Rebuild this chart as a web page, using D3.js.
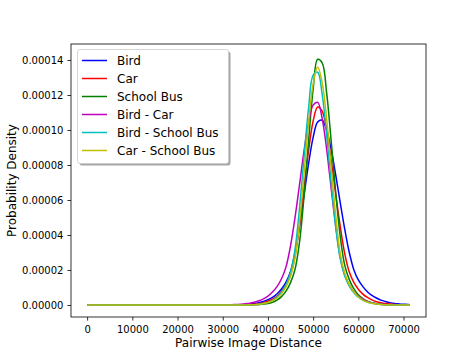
<!DOCTYPE html>
<html><head><meta charset="utf-8">
<script src="https://cdn.jsdelivr.net/npm/d3@7"></script>
<style>
body{margin:0;background:#fff}
svg{display:block}
text{font-family:"DejaVu Sans",sans-serif;fill:#000}
</style>
</head><body>
<svg id="chart" width="474" height="357"></svg>
<script>
// Sample points (pairwise image distance)
const distances = [0, 30000, 31000, 32000, 33000, 34000, 35000, 36000, 37000, 38000, 39000,
  40000, 41000, 42000, 43000, 44000, 45000, 46000, 47000, 48000, 49000,
  50000, 51000, 52000, 53000, 54000, 55000, 56000, 57000, 58000, 59000,
  60000, 61000, 62000, 63000, 64000, 65000, 66000, 67000, 68000, 69000,
  70000, 71000, 71400];

// Probability densities (units of 1e-5 written as e-5)
const bird = [0, 0, 0, 0, 0.01e-5, 0.018e-5, 0.031e-5, 0.052e-5, 0.083e-5, 0.13e-5, 0.20e-5,
  0.30e-5, 0.43e-5, 0.63e-5, 0.91e-5, 1.31e-5, 1.92e-5, 3.00e-5, 4.52e-5, 6.29e-5, 8.09e-5,
  9.58e-5, 10.46e-5, 10.56e-5, 9.97e-5, 8.87e-5, 7.42e-5, 5.84e-5, 4.32e-5, 3.00e-5, 2.02e-5,
  1.43e-5, 1.05e-5, 0.76e-5, 0.55e-5, 0.40e-5, 0.28e-5, 0.20e-5, 0.135e-5, 0.09e-5, 0.063e-5,
  0.042e-5, 0.025e-5, 0.02e-5];
const car = [0, 0, 0, 0, 0, 0.006e-5, 0.013e-5, 0.026e-5, 0.047e-5, 0.076e-5, 0.13e-5,
  0.21e-5, 0.33e-5, 0.50e-5, 0.77e-5, 1.15e-5, 1.71e-5, 2.82e-5, 4.58e-5, 6.70e-5, 8.84e-5,
  10.51e-5, 11.31e-5, 11.08e-5, 9.98e-5, 8.27e-5, 6.33e-5, 4.48e-5, 2.92e-5, 1.88e-5, 1.29e-5,
  0.90e-5, 0.62e-5, 0.43e-5, 0.29e-5, 0.19e-5, 0.125e-5, 0.08e-5, 0.05e-5, 0.03e-5, 0.017e-5,
  0.009e-5, 0.003e-5, 0];
const schoolBus = [0, 0, 0, 0, 0, 0, 0, 0, 0.01e-5, 0.02e-5, 0.05e-5,
  0.09e-5, 0.16e-5, 0.28e-5, 0.48e-5, 0.79e-5, 1.28e-5, 2.04e-5, 3.62e-5, 6.25e-5, 9.40e-5,
  12.33e-5, 14.04e-5, 13.83e-5, 12.09e-5, 9.35e-5, 6.40e-5, 3.91e-5, 2.26e-5, 1.45e-5, 0.93e-5,
  0.58e-5, 0.37e-5, 0.22e-5, 0.13e-5, 0.07e-5, 0.04e-5, 0.02e-5, 0.01e-5, 0, 0,
  0, 0, 0];
const birdCar = [0, 0, 0.007e-5, 0.015e-5, 0.03e-5, 0.04e-5, 0.07e-5, 0.10e-5, 0.16e-5, 0.24e-5, 0.35e-5,
  0.51e-5, 0.74e-5, 1.05e-5, 1.50e-5, 2.18e-5, 3.38e-5, 5.01e-5, 6.90e-5, 8.83e-5, 10.44e-5,
  11.42e-5, 11.58e-5, 10.65e-5, 8.88e-5, 6.64e-5, 4.50e-5, 2.73e-5, 1.70e-5, 1.14e-5, 0.75e-5,
  0.49e-5, 0.32e-5, 0.20e-5, 0.12e-5, 0.075e-5, 0.045e-5, 0.025e-5, 0.013e-5, 0.005e-5, 0,
  0, 0, 0];
const birdSchoolBus = [0, 0, 0, 0, 0, 0, 0, 0.01e-5, 0.02e-5, 0.05e-5, 0.09e-5,
  0.15e-5, 0.26e-5, 0.45e-5, 0.73e-5, 1.17e-5, 1.86e-5, 3.19e-5, 5.58e-5, 8.48e-5, 11.27e-5,
  13.14e-5, 13.30e-5, 12.03e-5, 9.68e-5, 6.96e-5, 4.44e-5, 2.63e-5, 1.66e-5, 1.08e-5, 0.70e-5,
  0.45e-5, 0.28e-5, 0.17e-5, 0.10e-5, 0.06e-5, 0.03e-5, 0.016e-5, 0.007e-5, 0, 0,
  0, 0, 0];
const carSchoolBus = [0, 0, 0, 0, 0, 0, 0, 0.01e-5, 0.02e-5, 0.04e-5, 0.08e-5,
  0.14e-5, 0.24e-5, 0.40e-5, 0.65e-5, 1.03e-5, 1.65e-5, 2.69e-5, 4.74e-5, 7.51e-5, 10.42e-5,
  12.64e-5, 13.60e-5, 12.70e-5, 10.60e-5, 7.82e-5, 5.11e-5, 2.92e-5, 1.81e-5, 1.16e-5, 0.74e-5,
  0.47e-5, 0.28e-5, 0.17e-5, 0.10e-5, 0.06e-5, 0.03e-5, 0.015e-5, 0.005e-5, 0, 0,
  0, 0, 0];

const seriesNames = ["Bird", "Car", "School Bus", "Bird - Car", "Bird - School Bus", "Car - School Bus"];
const seriesValues = [bird, car, schoolBus, birdCar, birdSchoolBus, carSchoolBus];
const seriesColors = ["#0000ff", "#ff0000", "#008000", "#bf00bf", "#00bfbf", "#bfbf00"];

const xTicks = [0, 10000, 20000, 30000, 40000, 50000, 60000, 70000];
const yTicks = [0, 0.00002, 0.00004, 0.00006, 0.00008, 0.00010, 0.00012, 0.00014];
const xLabel = "Pairwise Image Distance";
const yLabel = "Probability Density";

// Layout
const W = 474, H = 357;
const m = {left: 71, right: 48, top: 44, bottom: 40};
const svg = d3.select("#chart");

const xMin = d3.min(distances), xMax = d3.max(distances);
const xPad = (xMax - xMin) * 0.05;
const x = d3.scaleLinear().domain([xMin - xPad, xMax + xPad]).range([m.left, W - m.right]);
const yMaxTick = 0.00014, yTop = yMaxTick * 1.0653, yBot = -0.00000686;
const y = d3.scaleLinear().domain([yBot, yTop]).range([H - m.bottom, m.top]);

// Lines
const line = d3.line().x(d => x(d[0])).y(d => y(d[1])).curve(d3.curveCatmullRom.alpha(0.5));
seriesValues.forEach((vals, i) => {
  svg.append("path")
    .datum(distances.map((dv, j) => [dv, vals[j]]))
    .attr("fill", "none")
    .attr("stroke", seriesColors[i])
    .attr("stroke-width", 1.5)
    .attr("stroke-linejoin", "round")
    .attr("d", line);
});

// Axes
const tick = 3.6;
const xAxis = svg.append("g").attr("transform", `translate(0,${H - m.bottom})`)
  .call(d3.axisBottom(x).tickValues(xTicks).tickFormat(d3.format("d")).tickSize(tick).tickPadding(5));
const yAxis = svg.append("g").attr("transform", `translate(${m.left},0)`)
  .call(d3.axisLeft(y).tickValues(yTicks).tickFormat(d3.format(".5f")).tickSize(tick).tickPadding(4));
[xAxis, yAxis].forEach(g => {
  g.select(".domain").remove();
  g.selectAll(".tick line").attr("stroke", "#000").attr("stroke-width", 0.8);
  g.selectAll(".tick text").attr("font-size", 10).attr("font-family", "DejaVu Sans").attr("fill", "#000");
});

// Frame
svg.append("rect")
  .attr("x", m.left).attr("y", m.top)
  .attr("width", W - m.left - m.right).attr("height", H - m.top - m.bottom)
  .attr("fill", "none").attr("stroke", "#000").attr("stroke-width", 0.8);

// Axis labels
svg.append("text").attr("x", (m.left + W - m.right) / 2).attr("y", 347)
  .attr("text-anchor", "middle").attr("font-size", 12).text(xLabel);
svg.append("text").attr("transform", `translate(15.5,${(m.top + H - m.bottom) / 2}) rotate(-90)`)
  .attr("text-anchor", "middle").attr("font-size", 12).text(yLabel);

// Legend
const lg = svg.append("g");
const lx = 77.5, ly = 49.5, lw = 151, lh = 114;
lg.append("rect").attr("x", lx + 2).attr("y", ly + 2).attr("width", lw).attr("height", lh)
  .attr("rx", 2.5).attr("fill", "#4d4d4d").attr("fill-opacity", 0.5);
lg.append("rect").attr("x", lx).attr("y", ly).attr("width", lw).attr("height", lh)
  .attr("rx", 2.5).attr("fill", "#fff").attr("stroke", "#cccccc").attr("stroke-width", 0.8);
seriesNames.forEach((name, i) => {
  const cy = 60.5 + i * 18;
  lg.append("line").attr("x1", 82).attr("x2", 107).attr("y1", cy).attr("y2", cy)
    .attr("stroke", seriesColors[i]).attr("stroke-width", 1.5);
  lg.append("text").attr("x", 117).attr("y", cy + 4.4).attr("font-size", 12).text(name);
});
</script>
</body></html>
